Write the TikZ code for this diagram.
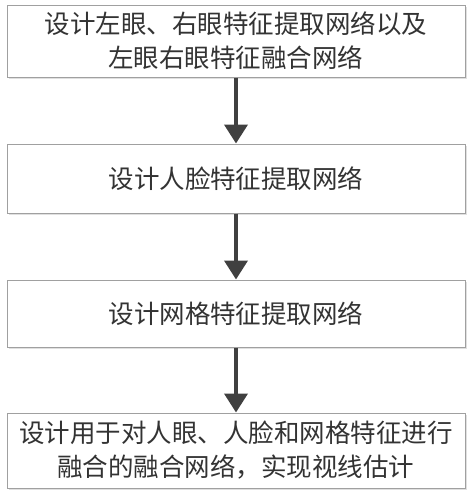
\documentclass[tikz,border=0pt]{standalone}
\usepackage{fontspec}
\usepackage{tikz}
\usetikzlibrary{arrows.meta,shadows}
\newfontfamily\cjk{Noto Sans CJK SC}
\definecolor{boxline}{HTML}{A0A0A0}
\definecolor{arrowgray}{HTML}{404040}
\definecolor{textgray}{HTML}{333333}

\begin{document}
\begin{tikzpicture}[x=1pt, y=-1pt,
    every text node part/.style={align=center},
    stepbox/.style={draw=boxline, line width=1pt, fill=white, text=textgray,
        minimum width=458pt, inner sep=0pt,
        font=\cjk\fontsize{25.5}{34}\selectfont,
        drop shadow={shadow xshift=1.5pt, shadow yshift=-1.5pt, fill=black!12, opacity=1}},
    flow/.style={draw=arrowgray, line width=4pt, -{Triangle[width=23pt, length=19pt]}}]
    \useasboundingbox (0, 0) rectangle (474, 496);

    \node[stepbox, minimum height=72pt] (eye) at (236, 41) {设计左眼、右眼特征提取网络以及\\左眼右眼特征融合网络};
    \node[stepbox, minimum height=69pt] (face) at (236, 178.5) {设计人脸特征提取网络};
    \node[stepbox, minimum height=67pt] (grid) at (236, 313.5) {设计网格特征提取网络};
    \node[stepbox, minimum height=75pt] (fuse) at (236, 450.5) {设计用于对人眼、人脸和网格特征进行\\融合的融合网络，实现视线估计};

    \draw[flow] (eye) -- (face);
    \draw[flow] (face) -- (grid);
    \draw[flow] (grid) -- (fuse);
\end{tikzpicture}
\end{document}
